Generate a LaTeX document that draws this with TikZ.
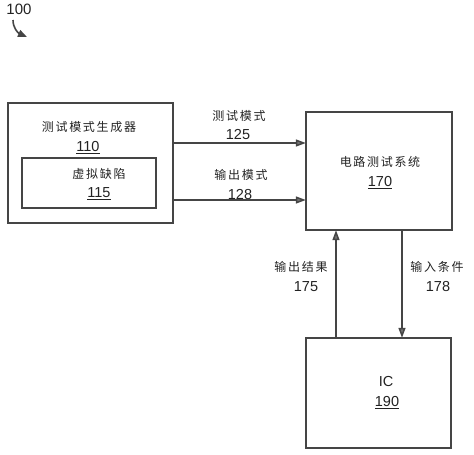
\documentclass[tikz,border=0pt]{standalone}
\usepackage{fontspec}
\setmainfont{Liberation Sans}
\newfontfamily\cjk[LetterSpace=14]{Noto Sans CJK SC}
\usetikzlibrary{arrows.meta}
\definecolor{ln}{HTML}{454545}
\definecolor{tx}{HTML}{222222}
\tikzset{
  blk/.style={draw=ln, line width=1.5pt},
  lbl/.style={text=tx, font=\fontsize{12}{14}\selectfont\cjk, inner sep=0pt},
  num/.style={text=tx, font=\fontsize{14.5}{16}\selectfont, inner sep=0pt},
  conn/.style={draw=ln, line width=1.5pt, -{Triangle[length=10pt,width=7pt,fill=ln!75]}}
}
\newcommand{\ul}[1]{\underline{#1}}
\begin{document}
\begin{tikzpicture}[x=1pt,y=-1pt]
\useasboundingbox (0,0) rectangle (474,455);
% boxes
\path[blk] (8,103) rectangle (173,223);
\path[blk] (22,158) rectangle (156,208);
\path[blk] (306,112) rectangle (452,230);
\path[blk] (306,338) rectangle (451,448);
% named anchors
\node[minimum width=165pt, minimum height=120pt, inner sep=0pt] (gen) at (90.5,163) {};
\node[minimum width=146pt, minimum height=118pt, inner sep=0pt] (cts) at (379,171) {};
\node[minimum width=145pt, minimum height=110pt, inner sep=0pt] (ic) at (378.5,393) {};
% texts
\node[lbl] at (89,127) {测试模式生成器};
\node[num] at (88,148) {\ul{110}};
\node[lbl] at (99,174) {虚拟缺陷};
\node[num] at (99,194) {\ul{115}};
\node[lbl] at (380,162) {电路测试系统};
\node[num] at (380,183) {\ul{170}};
\node[num] at (386,382) {IC};
\node[num] at (387,403) {\ul{190}};
\node[lbl] at (239,116) {测试模式};
\node[num] at (238,135) {125};
\node[lbl] at (241,175) {输出模式};
\node[num] at (240,195) {128};
\node[lbl] at (301,267) {输出结果};
\node[num] at (306,287) {175};
\node[lbl] at (437,267) {输入条件};
\node[num] at (438,287) {178};
% connectors
\draw[conn] (gen.east |- 0,143) -- (cts.west |- 0,143);
\draw[conn] (gen.east |- 0,200) -- (cts.west |- 0,200);
\draw[conn] (ic.north -| 336,0) -- (cts.south -| 336,0);
\draw[conn] (cts.south -| 402,0) -- (ic.north -| 402,0);
% ref 100
\node[num, font=\fontsize{15}{17}\selectfont] (r100) at (19,9) {100};
\coordinate (r100e) at (27,37);
\draw[draw=ln, line width=1.6pt, -{Triangle[length=9pt,width=7pt,fill=ln]}] (13,20) .. controls (13,28) and (18,33) .. (r100e);
\end{tikzpicture}
\end{document}
